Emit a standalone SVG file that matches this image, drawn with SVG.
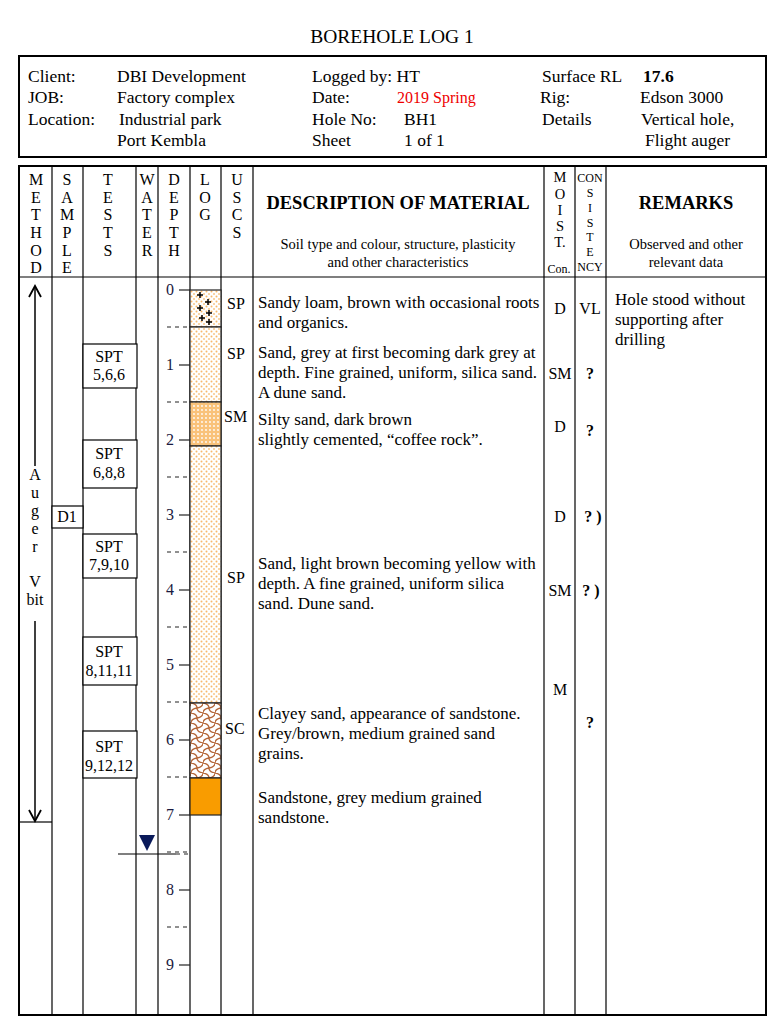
<svg xmlns="http://www.w3.org/2000/svg" width="777" height="1021" viewBox="0 0 777 1021" font-family="Liberation Serif, Times New Roman, serif">
<style>
text{font-family:"Liberation Serif","Times New Roman",serif;fill:#000}
.h{font-size:17.5px}
.s{font-size:17px}
.t{font-size:16px}
.c{text-anchor:middle}
.sm{font-size:14.5px}
.xs{font-size:12px}
.b{font-weight:bold}
.ln{stroke:#000;stroke-width:1.2;fill:none}
.bx{stroke:#000;stroke-width:1.2;fill:#fff}
.tk{stroke:#222;stroke-width:1.2}
.dash{stroke:#222;stroke-width:1.2;stroke-dasharray:4,4}
.dp{font-size:16px;fill:#1a1a40;text-anchor:end}
</style>
<defs>
<pattern id="dots" width="5" height="5" patternUnits="userSpaceOnUse"><rect width="5" height="5" fill="#fff"/><circle cx="1.5" cy="1.5" r="1" fill="#f8b86a"/><circle cx="4" cy="4" r="1" fill="#f8c88a"/></pattern>
<pattern id="hatch" width="4" height="4" patternUnits="userSpaceOnUse"><rect width="4" height="4" fill="#f9c27a"/><circle cx="2" cy="2" r="0.9" fill="#fff"/></pattern>
<pattern id="clay" x="191" y="703" width="12" height="10" patternUnits="userSpaceOnUse"><rect width="12" height="10" fill="#fff"/><path d="M0,0 Q6,1 6,5 Q6,9 12,10 M6,5 Q12,4 12,0 M0,10 Q0,6 6,5" fill="none" stroke="#b5683a" stroke-width="1.3"/></pattern>
</defs>
<rect width="777" height="1021" fill="#fff"/>
<text x="392" y="43" class="c" style="font-size:19.5px">BOREHOLE LOG 1</text>

<g id="header">
<rect x="19" y="56" width="747" height="101" fill="none" stroke="#000" stroke-width="2"/>
<text x="28" y="82" class="h">Client:</text><text x="117" y="82" class="h">DBI Development</text>
<text x="28" y="103" class="h">JOB:</text><text x="117" y="103" class="h">Factory complex</text>
<text x="28" y="125" class="h">Location:</text><text x="119" y="125" class="h">Industrial park</text>
<text x="117" y="146" class="h">Port Kembla</text>
<text x="312" y="82" class="h">Logged by: HT</text>
<text x="312" y="103" class="h">Date:</text><text x="397" y="103" style="fill:#e00;font-size:16px">2019 Spring</text>
<text x="312" y="125" class="h">Hole No:</text><text x="404" y="125" class="h">BH1</text>
<text x="312" y="146" class="h">Sheet</text><text x="404" y="146" class="h">1 of 1</text>
<text x="542" y="82" class="h">Surface RL</text><text x="643" y="82" class="h b">17.6</text>
<text x="540" y="103" class="h">Rig:</text><text x="640" y="103" class="h">Edson 3000</text>
<text x="542" y="125" class="h">Details</text><text x="641" y="125" class="h">Vertical hole,</text>
<text x="645" y="146" class="h">Flight auger</text>
</g>

<g id="table">
<rect x="19" y="166" width="747" height="849" fill="none" stroke="#000" stroke-width="2"/>
<line x1="19" y1="277" x2="766" y2="277" class="ln" stroke-width="1.5"/>
<g class="ln">
<line x1="52" y1="166" x2="52" y2="1015"/><line x1="83" y1="166" x2="83" y2="1015"/>
<line x1="136" y1="166" x2="136" y2="1015"/><line x1="158" y1="166" x2="158" y2="1015"/>
<line x1="190" y1="166" x2="190" y2="1015"/><line x1="221" y1="166" x2="221" y2="1015"/>
<line x1="253" y1="166" x2="253" y2="1015"/><line x1="544" y1="166" x2="544" y2="1015"/>
<line x1="575" y1="166" x2="575" y2="1015"/><line x1="606" y1="166" x2="606" y2="1015"/>
</g>
<g class="t c">
<text x="36" y="185">M</text><text x="36" y="203">E</text><text x="36" y="220">T</text><text x="36" y="238">H</text><text x="36" y="256">O</text><text x="36" y="273">D</text>
<text x="67" y="185">S</text><text x="67" y="203">A</text><text x="67" y="220">M</text><text x="67" y="238">P</text><text x="67" y="256">L</text><text x="67" y="273">E</text>
<text x="108" y="185">T</text><text x="108" y="203">E</text><text x="108" y="220">S</text><text x="108" y="238">T</text><text x="108" y="256">S</text>
<text x="147" y="185">W</text><text x="147" y="203">A</text><text x="147" y="220">T</text><text x="147" y="238">E</text><text x="147" y="256">R</text>
<text x="174" y="185">D</text><text x="174" y="203">E</text><text x="174" y="220">P</text><text x="174" y="238">T</text><text x="174" y="256">H</text>
<text x="205" y="185">L</text><text x="205" y="203">O</text><text x="205" y="220">G</text>
<text x="237" y="185">U</text><text x="237" y="203">S</text><text x="237" y="220">C</text><text x="237" y="238">S</text>
</g>
<text x="398" y="209" class="c b" style="font-size:18.5px">DESCRIPTION OF MATERIAL</text>
<text x="398" y="249" class="sm c">Soil type and colour, structure, plasticity</text>
<text x="398" y="267" class="sm c">and other characteristics</text>
<g class="sm c">
<text x="560" y="182">M</text><text x="560" y="199">O</text><text x="560" y="215">I</text><text x="560" y="231">S</text><text x="560" y="247">T.</text>
<text x="590" y="182" class="xs">CON</text><text x="590" y="197" class="xs">S</text><text x="590" y="212" class="xs">I</text><text x="590" y="227" class="xs">S</text><text x="590" y="241" class="xs">T</text><text x="590" y="256" class="xs">E</text><text x="590" y="271" class="xs">NCY</text>
</g>
<text x="559" y="273" class="xs c">Con.</text>
<text x="686" y="209" class="c b" style="font-size:18.5px">REMARKS</text>
<text x="686" y="249" class="sm c">Observed and other</text>
<text x="686" y="267" class="sm c">relevant data</text>
</g>

<g id="depth">
<text x="174" y="295" class="dp">0</text><text x="174" y="370" class="dp">1</text><text x="174" y="445" class="dp">2</text><text x="174" y="520" class="dp">3</text><text x="174" y="595" class="dp">4</text><text x="174" y="670" class="dp">5</text><text x="174" y="745" class="dp">6</text><text x="174" y="820" class="dp">7</text><text x="174" y="895" class="dp">8</text><text x="174" y="970" class="dp">9</text>
<g class="tk"><line x1="179" y1="290" x2="190" y2="290"/><line x1="179" y1="365" x2="190" y2="365"/><line x1="179" y1="440" x2="190" y2="440"/><line x1="179" y1="515" x2="190" y2="515"/><line x1="179" y1="590" x2="190" y2="590"/><line x1="179" y1="665" x2="190" y2="665"/><line x1="179" y1="740" x2="190" y2="740"/><line x1="179" y1="815" x2="190" y2="815"/><line x1="179" y1="890" x2="190" y2="890"/><line x1="179" y1="965" x2="190" y2="965"/></g>
<g class="dash"><line x1="167" y1="327" x2="190" y2="327"/><line x1="167" y1="402" x2="190" y2="402"/><line x1="167" y1="477" x2="190" y2="477"/><line x1="167" y1="552" x2="190" y2="552"/><line x1="167" y1="627" x2="190" y2="627"/><line x1="167" y1="702" x2="190" y2="702"/><line x1="167" y1="777" x2="190" y2="777"/><line x1="167" y1="852" x2="190" y2="852"/><line x1="167" y1="927" x2="190" y2="927"/></g>
</g>

<g id="log" stroke="#222" stroke-width="1.2">
<rect x="190" y="290" width="31" height="37" fill="url(#dots)"/>
<rect x="190" y="327" width="31" height="75" fill="url(#dots)"/>
<rect x="190" y="402" width="31" height="44" fill="url(#hatch)"/>
<rect x="190" y="446" width="31" height="257" fill="url(#dots)"/>
<rect x="190" y="703" width="31" height="75" fill="url(#clay)"/>
<rect x="190" y="778" width="31" height="37" fill="#f99c00"/>
<g fill="none" stroke="#000" stroke-width="1.5"><path d="M197,295h6M200,292v6M205,302h6M208,299v6M197,308h6M200,305v6M206,313h6M209,310v6M199,318h6M202,315v6M206,322h6M209,319v6"/></g>
</g>

<g id="uscs" class="t">
<text x="227" y="309">SP</text><text x="227" y="359">SP</text><text x="224" y="422">SM</text><text x="227" y="583">SP</text><text x="225" y="734">SC</text>
</g>

<g id="desc" class="s">
<text x="258" y="308">Sandy loam, brown with occasional roots</text><text x="258" y="328">and organics.</text>
<text x="258" y="358">Sand, grey at first becoming dark grey at</text><text x="258" y="378">depth. Fine grained, uniform, silica sand.</text><text x="258" y="398">A dune sand.</text>
<text x="258" y="425">Silty sand, dark brown</text><text x="258" y="445">slightly cemented, “coffee rock”.</text>
<text x="258" y="569">Sand, light brown becoming yellow with</text><text x="258" y="589">depth. A fine grained, uniform silica</text><text x="258" y="609">sand. Dune sand.</text>
<text x="258" y="719">Clayey sand, appearance of sandstone.</text><text x="258" y="739">Grey/brown, medium grained sand</text><text x="258" y="759">grains.</text>
<text x="258" y="803">Sandstone, grey medium grained</text><text x="258" y="823">sandstone.</text>
</g>

<g id="moist" class="t c">
<text x="560" y="314">D</text><text x="560" y="379">SM</text><text x="560" y="432">D</text><text x="560" y="522">D</text><text x="560" y="596">SM</text><text x="560" y="695">M</text>
</g>
<g id="consistency" class="t c">
<text x="590" y="314">VL</text><text x="590" y="379" class="b">?</text><text x="590" y="436" class="b">?</text><text x="593" y="522" class="b">? )</text><text x="591" y="596" class="b">? )</text><text x="590" y="728" class="b">?</text>
</g>
<g id="remarks" class="s">
<text x="615" y="305">Hole stood without</text><text x="615" y="325">supporting after</text><text x="615" y="345">drilling</text>
</g>

<g id="tests" class="t c">
<rect x="83" y="344" width="54" height="44" class="bx"/><text x="109" y="362">SPT</text><text x="109" y="380">5,6,6</text>
<rect x="83" y="440" width="54" height="48" class="bx"/><text x="109" y="459">SPT</text><text x="109" y="478">6,8,8</text>
<rect x="83" y="534" width="54" height="44" class="bx"/><text x="109" y="552">SPT</text><text x="109" y="570">7,9,10</text>
<rect x="83" y="637" width="54" height="48" class="bx"/><text x="109" y="657">SPT</text><text x="109" y="676">8,11,11</text>
<rect x="83" y="731" width="54" height="47" class="bx"/><text x="109" y="752">SPT</text><text x="109" y="771">9,12,12</text>
<rect x="52" y="506" width="31" height="22" class="bx"/><text x="67" y="522">D1</text>
</g>

<g id="method">
<line x1="35" y1="286" x2="35" y2="466" stroke="#000" stroke-width="1.5"/>
<path d="M29,297 L35,286 L41,297" fill="none" stroke="#000" stroke-width="1.8"/>
<line x1="35" y1="621" x2="35" y2="821" stroke="#000" stroke-width="1.5"/>
<path d="M29,810 L35,821 L41,810" fill="none" stroke="#000" stroke-width="1.8"/>
<line x1="20" y1="822" x2="52" y2="822" stroke="#000" stroke-width="1.2"/>
<g class="t c"><text x="35" y="480">A</text><text x="35" y="498">u</text><text x="35" y="516">g</text><text x="35" y="534">e</text><text x="35" y="552">r</text><text x="35" y="587">V</text><text x="35" y="605">bit</text></g>
</g>

<g id="connectors">
<path d="M139,835 L155,835 L147,851 Z" fill="#0a1a5a"/>
<line x1="118" y1="854" x2="176" y2="854" stroke="#000" stroke-width="1.2"/>
<line x1="176" y1="854" x2="190" y2="854" class="dash"/>
</g>
</svg>
